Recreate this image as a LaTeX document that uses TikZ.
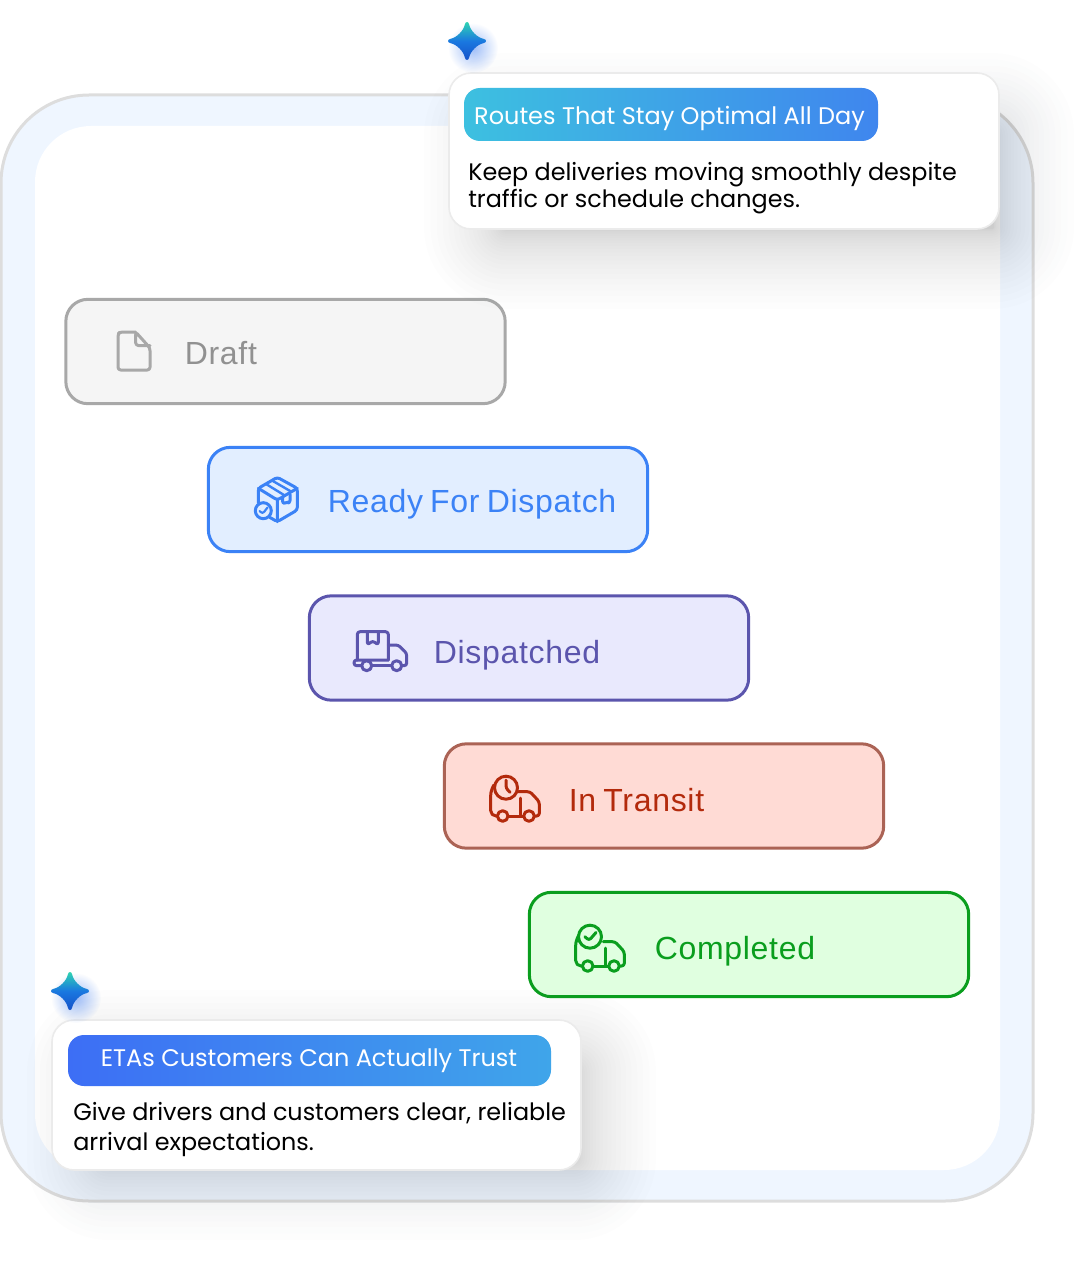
\documentclass[tikz,border=0pt]{standalone}
\usepackage{fontspec}
\setmainfont{Poppins}
\newfontfamily\cardfont[LetterSpace=2.2,WordSpace=0.75]{Liberation Sans}
\usetikzlibrary{fadings}

\definecolor{frameline}{HTML}{DDDDDD}
\definecolor{framefill}{HTML}{EFF6FF}
\definecolor{draftline}{HTML}{A8A8A8}
\definecolor{draftfill}{HTML}{F5F5F5}
\definecolor{drafttext}{HTML}{919191}
\definecolor{readyline}{HTML}{3B82F6}
\definecolor{readyfill}{HTML}{E2EEFF}
\definecolor{sentline}{HTML}{5B55AD}
\definecolor{sentfill}{HTML}{E9E9FD}
\definecolor{transitline}{HTML}{AB6355}
\definecolor{transitfill}{HTML}{FFDBD5}
\definecolor{transittext}{HTML}{B32A0C}
\definecolor{doneline}{HTML}{0A9E1E}
\definecolor{donefill}{HTML}{E0FFE0}
\definecolor{pilla}{HTML}{3DC0E0}
\definecolor{pillb}{HTML}{3F86EE}
\definecolor{pillc}{HTML}{3D6EF5}
\definecolor{pilld}{HTML}{3FA5EA}
\definecolor{startop}{HTML}{2FD8B0}
\definecolor{starmid}{HTML}{1A78E0}
\definecolor{starbot}{HTML}{1550C8}
\definecolor{glow}{HTML}{3F7CF0}
\definecolor{shade}{HTML}{1E2A3A}
\tikzfading[name=starglow, inner color=transparent!0, outer color=transparent!100]

\begin{document}
\begin{tikzpicture}[x=0.75pt,y=-0.75pt]
\tikzstyle{frame} = [rectangle, draw=frameline, line width=2.25pt, fill=framefill,
minimum width=774pt, minimum height=829.5pt, rounded corners=66pt]
\tikzstyle{sheet} = [rectangle, fill=white, minimum width=723.75pt, minimum height=783pt, rounded corners=42pt]
\tikzstyle{status} = [rectangle, line width=2.25pt, minimum width=329.5pt, minimum height=78.25pt, rounded corners=16.5pt]
\tikzstyle{status_text} = [anchor=base west, inner sep=0pt, font=\cardfont\fontsize{24}{28}\selectfont]
\tikzstyle{callout} = [rectangle, draw=black!8, line width=1.2pt, fill=white, rounded corners=16.5pt]
\tikzstyle{haze} = [fill=shade, fill opacity=.0085]
\tikzstyle{pill} = [rectangle, rounded corners=12pt, shading angle=90]
\tikzstyle{pill_text} = [anchor=base, inner sep=0pt, text=white, font=\fontsize{18}{22}\selectfont]
\tikzstyle{body_text} = [anchor=north west, align=left, text=black, inner sep=0pt]
\tikzstyle{icon} = [line width=2.25pt, line join=round, line cap=round, rounded corners=2pt]
\tikzstyle{sparkle} = [top color=startop, bottom color=starbot, middle color=starmid]

\useasboundingbox (0,0) rectangle (1077,1277);

% frame
\node [frame] (outer) at (517,648) {};
\node [sheet] (inner) at (517.5,648) {};

% status cards
\node [status, draw=draftline, fill=draftfill] (draft) at (285.5,351.5) {};
\node [status, draw=readyline, fill=readyfill] (ready) at (428,499.5) {};
\node [status, draw=sentline, fill=sentfill] (dispatched) at (529,648) {};
\node [status, draw=transitline, fill=transitfill] (transit) at (664,796) {};
\node [status, draw=doneline, fill=donefill] (completed) at (749,944.5) {};

\node [status_text, text=drafttext] (draft_text) at (184.5,364) {Draft};
\node [status_text, text=readyline] (ready_text) at (327.5,512) {Ready For Dispatch};
\node [status_text, text=sentline] (dispatched_text) at (433.5,663) {Dispatched};
\node [status_text, text=transittext] (transit_text) at (568.5,811) {In Transit};
\node [status_text, text=doneline] (completed_text) at (654.5,959) {Completed};

% draft icon
\draw [icon, draw=draftline] (135.7,332) -- (120,332) -- (118,334) -- (118,370) -- (150,370) -- (150,348) -- (135.7,332) -- (135.7,345.5) -- (150,345.5);

% ready icon
\draw [icon, draw=readyline] (258.3,503) -- (258.3,488.3) -- (277.3,477.3) -- (297.3,488.3) -- (297.3,510) -- (277.3,521.7) -- (270,517.5);
\draw [icon, draw=readyline] (258.3,488.3) -- (277.3,500) -- (297.3,488.3) (277.3,500) -- (277.3,521.7);
\draw [icon, draw=readyline, line width=1.8pt] (266,484) -- (284,495) (272,480.5) -- (291,491.5);
\draw [icon, draw=readyline] (282.7,497) -- (282.7,504.3) -- (286.7,501.7) -- (290,503.3) -- (290,494.3);
\draw [icon, draw=readyline, fill=readyfill] (263.3,510.7) circle (8);
\draw [icon, draw=readyline, line width=1.6pt] (259.7,511) -- (262.5,514) -- (267.5,507.5);

% dispatched icon
\draw [icon, draw=sentline] (357.3,660) -- (357.3,631.7) -- (388.3,631.7) -- (388.3,660);
\draw [icon, draw=sentline] (367.3,631.7) -- (367.3,645) -- (372.7,640.7) -- (378.3,645) -- (378.3,631.7);
\draw [icon, draw=sentline] (361.7,665.7) -- (354,665.7) -- (354,660) -- (388.3,660);
\draw [icon, draw=sentline] (388.3,645) -- (398.3,645) -- (406.7,653.3) -- (406.7,665.7) -- (401.7,665.7);
\draw [icon, draw=sentline] (371.7,665.7) -- (391.7,665.7);
\draw [icon, draw=sentline] (366.7,665.7) circle (5) (396.7,665.7) circle (5);

% transit icon
\draw [icon, draw=transittext, rounded corners=4pt] (494,785) -- (490.7,790) -- (490.7,816) -- (497,816);
\draw [icon, draw=transittext] (518.3,791.7) -- (530,791.7) -- (539.3,801.7) -- (539.3,816) -- (534.5,816);
\draw [icon, draw=transittext] (520,798) -- (520,816) (508,816) -- (523.5,816);
\draw [icon, draw=transittext] (502.7,816) circle (5.3) (529,816) circle (5.3);
\draw [icon, draw=transittext, fill=transitfill] (506,787.7) circle (11.5);
\draw [icon, draw=transittext] (506,780) -- (506,788.3) -- (510,792.3);

% completed icon
\draw [icon, draw=doneline, rounded corners=4pt] (579,935) -- (575.7,940) -- (575.7,966) -- (582,966);
\draw [icon, draw=doneline] (603.3,941.7) -- (615,941.7) -- (624.3,951.7) -- (624.3,966) -- (619.5,966);
\draw [icon, draw=doneline] (605,948) -- (605,966) (593,966) -- (608.5,966);
\draw [icon, draw=doneline] (587.7,966) circle (5.3) (614,966) circle (5.3);
\draw [icon, draw=doneline, fill=donefill] (590,936.7) circle (11.5);
\draw [icon, draw=doneline] (585,936.7) -- (589,940.5) -- (596,932.5);

% callout top
\foreach \i [evaluate=\i as \g using -30+80*(\i/24)^2] in {0,...,24}
\fill [haze, rounded corners={(24+0.75*\g)*1pt}] (474-\g,103-\g) rectangle (1024+\g,259+\g);
\node [callout, minimum width=412.5pt, minimum height=117pt] (route_box) at (724,151) {};
\node [pill, left color=pilla, right color=pillb, minimum width=310.5pt, minimum height=39.75pt] (route_pill) at (671,114.5) {};
\node [pill_text] (route_title) at (669.5,125) {Routes That Stay Optimal All Day};
\node [body_text, font=\fontsize{17.9}{20.5}\selectfont] (route_body) at (468,162) {Keep deliveries moving smoothly despite\\traffic or schedule changes.};

% callout bottom
\foreach \i [evaluate=\i as \g using -30+80*(\i/24)^2] in {0,...,24}
\fill [haze, rounded corners={(24+0.75*\g)*1pt}] (77-\g,1040-\g) rectangle (606+\g,1190+\g);
\node [callout, minimum width=396.75pt, minimum height=112.5pt] (eta_box) at (316.5,1095) {};
\node [pill, left color=pillc, right color=pilld, minimum width=362.25pt, minimum height=38.25pt] (eta_pill) at (309.5,1060.5) {};
\node [pill_text] (eta_title) at (309,1066) {ETAs Customers Can Actually Trust};
\node [body_text, font=\fontsize{17.9}{22.5}\selectfont] (eta_body) at (73,1102) {Give drivers and customers clear, reliable\\arrival expectations.};

% stars
\fill [glow, path fading=starglow, opacity=.5] (473,48) circle (25);
\fill [glow, path fading=starglow, opacity=.5] (76,998) circle (25);
\foreach \cx/\cy in {467/41,70/991}
\shade [sparkle, shift={(\cx,\cy)}, scale=.95]
(-2.4,-17) .. controls (-1.8,-21) and (1.8,-21) .. (2.4,-17) .. controls (3.5,-11) and (11,-3.5) .. (17,-2.4)
.. controls (21,-1.8) and (21,1.8) .. (17,2.4) .. controls (11,3.5) and (3.5,11) .. (2.4,17)
.. controls (1.8,21) and (-1.8,21) .. (-2.4,17) .. controls (-3.5,11) and (-11,3.5) .. (-17,2.4)
.. controls (-21,1.8) and (-21,-1.8) .. (-17,-2.4) .. controls (-11,-3.5) and (-3.5,-11) .. (-2.4,-17) -- cycle;

\end{tikzpicture}
\end{document}
